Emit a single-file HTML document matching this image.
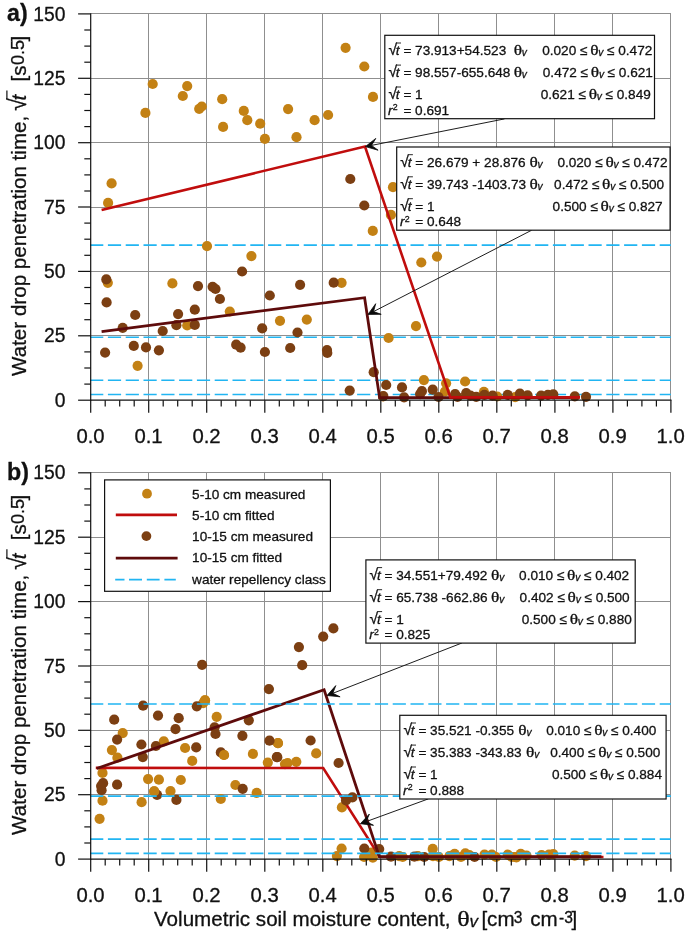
<!DOCTYPE html>
<html lang="en"><head><meta charset="utf-8"><title>Water drop penetration time vs. volumetric soil moisture content</title>
<style>html,body{margin:0;padding:0;background:#fff}svg{display:block}text{font-family:"Liberation Sans",Arial,sans-serif;stroke:#111;stroke-width:0.3px;stroke-linejoin:round}.ser{font-family:"Liberation Serif","DejaVu Serif",serif}</style>
</head><body>
<svg width="685" height="932" viewBox="0 0 685 932">
<rect width="685" height="932" fill="#fff"/>
<g id="plot-a">
<g stroke="#8f8f8f" stroke-width="1" shape-rendering="crispEdges"><line x1="148.5" y1="13.9" x2="148.5" y2="400.2"/><line x1="206.5" y1="13.9" x2="206.5" y2="400.2"/><line x1="264.5" y1="13.9" x2="264.5" y2="400.2"/><line x1="322.5" y1="13.9" x2="322.5" y2="400.2"/><line x1="380.5" y1="13.9" x2="380.5" y2="400.2"/><line x1="438.5" y1="13.9" x2="438.5" y2="400.2"/><line x1="496.5" y1="13.9" x2="496.5" y2="400.2"/><line x1="554.5" y1="13.9" x2="554.5" y2="400.2"/><line x1="612.5" y1="13.9" x2="612.5" y2="400.2"/><line x1="670.5" y1="13.9" x2="670.5" y2="400.2"/><line x1="90.7" y1="335.5" x2="670.9" y2="335.5"/><line x1="90.7" y1="271.5" x2="670.9" y2="271.5"/><line x1="90.7" y1="207.5" x2="670.9" y2="207.5"/><line x1="90.7" y1="142.5" x2="670.9" y2="142.5"/><line x1="90.7" y1="78.5" x2="670.9" y2="78.5"/><line x1="90.7" y1="13.5" x2="670.9" y2="13.5"/></g>
<line x1="90.1" y1="394.5" x2="670.9" y2="394.5" stroke="#21b5f2" stroke-width="1.65" stroke-dasharray="13.2 4.6"/><line x1="90.1" y1="380.2" x2="670.9" y2="380.2" stroke="#21b5f2" stroke-width="1.65" stroke-dasharray="13.2 4.6"/><line x1="90.1" y1="337.2" x2="670.9" y2="337.2" stroke="#21b5f2" stroke-width="1.65" stroke-dasharray="13.2 4.6"/><line x1="90.1" y1="245.1" x2="670.9" y2="245.1" stroke="#21b5f2" stroke-width="1.65" stroke-dasharray="13.2 4.6"/>
<circle cx="152.7" cy="84.0" r="5.1" fill="#c38114"/><circle cx="145.4" cy="112.9" r="5.1" fill="#c38114"/><circle cx="187.2" cy="86.1" r="5.1" fill="#c38114"/><circle cx="182.8" cy="96.0" r="5.1" fill="#c38114"/><circle cx="201.8" cy="106.5" r="5.1" fill="#c38114"/><circle cx="199.2" cy="108.8" r="5.1" fill="#c38114"/><circle cx="222.2" cy="99.2" r="5.1" fill="#c38114"/><circle cx="223.1" cy="126.9" r="5.1" fill="#c38114"/><circle cx="243.8" cy="110.9" r="5.1" fill="#c38114"/><circle cx="247.3" cy="120.2" r="5.1" fill="#c38114"/><circle cx="260.2" cy="123.7" r="5.1" fill="#c38114"/><circle cx="264.9" cy="138.9" r="5.1" fill="#c38114"/><circle cx="288.1" cy="109.1" r="5.1" fill="#c38114"/><circle cx="296.5" cy="137.2" r="5.1" fill="#c38114"/><circle cx="314.6" cy="120.2" r="5.1" fill="#c38114"/><circle cx="328.1" cy="115.0" r="5.1" fill="#c38114"/><circle cx="345.6" cy="47.8" r="5.1" fill="#c38114"/><circle cx="364.3" cy="66.5" r="5.1" fill="#c38114"/><circle cx="373.0" cy="96.9" r="5.1" fill="#c38114"/><circle cx="111.6" cy="183.4" r="5.1" fill="#c38114"/><circle cx="108.1" cy="202.9" r="5.1" fill="#c38114"/><circle cx="207.0" cy="246.1" r="5.1" fill="#c38114"/><circle cx="251.4" cy="256.1" r="5.1" fill="#c38114"/><circle cx="107.8" cy="282.8" r="5.1" fill="#c38114"/><circle cx="172.4" cy="283.4" r="5.1" fill="#c38114"/><circle cx="137.6" cy="365.8" r="5.1" fill="#c38114"/><circle cx="187.2" cy="325.5" r="5.1" fill="#c38114"/><circle cx="229.8" cy="311.5" r="5.1" fill="#c38114"/><circle cx="280.0" cy="320.8" r="5.1" fill="#c38114"/><circle cx="372.8" cy="230.9" r="5.1" fill="#c38114"/><circle cx="393.0" cy="187.2" r="5.1" fill="#c38114"/><circle cx="390.9" cy="214.9" r="5.1" fill="#c38114"/><circle cx="421.3" cy="262.5" r="5.1" fill="#c38114"/><circle cx="437.0" cy="256.6" r="5.1" fill="#c38114"/><circle cx="341.6" cy="282.8" r="5.1" fill="#c38114"/><circle cx="306.8" cy="319.6" r="5.1" fill="#c38114"/><circle cx="388.6" cy="338.0" r="5.1" fill="#c38114"/><circle cx="416.0" cy="326.1" r="5.1" fill="#c38114"/><circle cx="423.9" cy="380.1" r="5.1" fill="#c38114"/><circle cx="446.1" cy="383.3" r="5.1" fill="#c38114"/><circle cx="465.1" cy="381.5" r="5.1" fill="#c38114"/><circle cx="383.0" cy="396.5" r="5.1" fill="#c38114"/><circle cx="445.0" cy="391.5" r="5.1" fill="#c38114"/><circle cx="483.9" cy="391.9" r="5.1" fill="#c38114"/><circle cx="497.2" cy="396.5" r="5.1" fill="#c38114"/><circle cx="515.2" cy="397.2" r="5.1" fill="#c38114"/>
<circle cx="242.1" cy="271.5" r="5.1" fill="#7c3f12"/><circle cx="106.3" cy="279.4" r="5.1" fill="#7c3f12"/><circle cx="198.0" cy="286.1" r="5.1" fill="#7c3f12"/><circle cx="212.6" cy="286.8" r="5.1" fill="#7c3f12"/><circle cx="215.5" cy="289.0" r="5.1" fill="#7c3f12"/><circle cx="269.8" cy="295.5" r="5.1" fill="#7c3f12"/><circle cx="219.9" cy="299.0" r="5.1" fill="#7c3f12"/><circle cx="106.6" cy="302.4" r="5.1" fill="#7c3f12"/><circle cx="135.2" cy="315.0" r="5.1" fill="#7c3f12"/><circle cx="122.7" cy="327.8" r="5.1" fill="#7c3f12"/><circle cx="133.8" cy="345.9" r="5.1" fill="#7c3f12"/><circle cx="146.0" cy="347.4" r="5.1" fill="#7c3f12"/><circle cx="105.1" cy="352.6" r="5.1" fill="#7c3f12"/><circle cx="158.9" cy="350.3" r="5.1" fill="#7c3f12"/><circle cx="162.7" cy="331.0" r="5.1" fill="#7c3f12"/><circle cx="178.1" cy="314.1" r="5.1" fill="#7c3f12"/><circle cx="176.4" cy="325.2" r="5.1" fill="#7c3f12"/><circle cx="194.8" cy="309.7" r="5.1" fill="#7c3f12"/><circle cx="194.8" cy="324.9" r="5.1" fill="#7c3f12"/><circle cx="236.2" cy="344.7" r="5.1" fill="#7c3f12"/><circle cx="240.6" cy="347.7" r="5.1" fill="#7c3f12"/><circle cx="262.2" cy="328.4" r="5.1" fill="#7c3f12"/><circle cx="264.9" cy="352.0" r="5.1" fill="#7c3f12"/><circle cx="350.3" cy="179.0" r="5.1" fill="#7c3f12"/><circle cx="364.3" cy="205.5" r="5.1" fill="#7c3f12"/><circle cx="300.1" cy="284.8" r="5.1" fill="#7c3f12"/><circle cx="333.7" cy="282.7" r="5.1" fill="#7c3f12"/><circle cx="297.5" cy="332.5" r="5.1" fill="#7c3f12"/><circle cx="290.2" cy="348.0" r="5.1" fill="#7c3f12"/><circle cx="327.0" cy="350.0" r="5.1" fill="#7c3f12"/><circle cx="327.3" cy="353.0" r="5.1" fill="#7c3f12"/><circle cx="349.7" cy="390.6" r="5.1" fill="#7c3f12"/><circle cx="373.7" cy="372.2" r="5.1" fill="#7c3f12"/><circle cx="386.2" cy="385.0" r="5.1" fill="#7c3f12"/><circle cx="402.0" cy="387.4" r="5.1" fill="#7c3f12"/><circle cx="383.3" cy="396.1" r="5.1" fill="#7c3f12"/><circle cx="404.1" cy="397.3" r="5.1" fill="#7c3f12"/><circle cx="421.9" cy="391.2" r="5.1" fill="#7c3f12"/><circle cx="420.1" cy="394.1" r="5.1" fill="#7c3f12"/><circle cx="432.7" cy="389.7" r="5.1" fill="#7c3f12"/><circle cx="438.5" cy="397.0" r="5.1" fill="#7c3f12"/><circle cx="455.1" cy="394.1" r="5.1" fill="#7c3f12"/><circle cx="457.5" cy="397.0" r="5.1" fill="#7c3f12"/><circle cx="466.2" cy="393.2" r="5.1" fill="#7c3f12"/><circle cx="470.4" cy="395.6" r="5.1" fill="#7c3f12"/><circle cx="476.2" cy="396.8" r="5.1" fill="#7c3f12"/><circle cx="484.4" cy="394.9" r="5.1" fill="#7c3f12"/><circle cx="492.6" cy="395.6" r="5.1" fill="#7c3f12"/><circle cx="507.7" cy="394.9" r="5.1" fill="#7c3f12"/><circle cx="519.9" cy="393.7" r="5.1" fill="#7c3f12"/><circle cx="527.6" cy="395.4" r="5.1" fill="#7c3f12"/><circle cx="541.1" cy="395.6" r="5.1" fill="#7c3f12"/><circle cx="547.9" cy="394.9" r="5.1" fill="#7c3f12"/><circle cx="553.3" cy="394.4" r="5.1" fill="#7c3f12"/><circle cx="574.8" cy="396.3" r="5.1" fill="#7c3f12"/><circle cx="586.0" cy="396.8" r="5.1" fill="#7c3f12"/>
<polyline points="101.6,331.6 364.6,297.7 379.6,397.6 570.4,397.6" fill="none" stroke="#5e0b0b" stroke-width="2.8" stroke-linejoin="miter"/>
<polyline points="101.6,209.9 365.0,146.6 450.3,397.4 580.0,397.4" fill="none" stroke="#c00d0d" stroke-width="2.6" stroke-linejoin="miter"/>
<g stroke="#111" stroke-width="1.2"><line x1="90.7" y1="13.3" x2="90.7" y2="400.8"/><line x1="90.1" y1="400.2" x2="671.5" y2="400.2"/><line x1="90.7" y1="400.2" x2="90.7" y2="412.8"/><line x1="105.2" y1="400.2" x2="105.2" y2="406.6"/><line x1="119.7" y1="400.2" x2="119.7" y2="406.6"/><line x1="134.2" y1="400.2" x2="134.2" y2="406.6"/><line x1="148.7" y1="400.2" x2="148.7" y2="412.8"/><line x1="163.2" y1="400.2" x2="163.2" y2="406.6"/><line x1="177.7" y1="400.2" x2="177.7" y2="406.6"/><line x1="192.2" y1="400.2" x2="192.2" y2="406.6"/><line x1="206.7" y1="400.2" x2="206.7" y2="412.8"/><line x1="221.2" y1="400.2" x2="221.2" y2="406.6"/><line x1="235.8" y1="400.2" x2="235.8" y2="406.6"/><line x1="250.3" y1="400.2" x2="250.3" y2="406.6"/><line x1="264.8" y1="400.2" x2="264.8" y2="412.8"/><line x1="279.3" y1="400.2" x2="279.3" y2="406.6"/><line x1="293.8" y1="400.2" x2="293.8" y2="406.6"/><line x1="308.3" y1="400.2" x2="308.3" y2="406.6"/><line x1="322.8" y1="400.2" x2="322.8" y2="412.8"/><line x1="337.3" y1="400.2" x2="337.3" y2="406.6"/><line x1="351.8" y1="400.2" x2="351.8" y2="406.6"/><line x1="366.3" y1="400.2" x2="366.3" y2="406.6"/><line x1="380.8" y1="400.2" x2="380.8" y2="412.8"/><line x1="395.3" y1="400.2" x2="395.3" y2="406.6"/><line x1="409.8" y1="400.2" x2="409.8" y2="406.6"/><line x1="424.3" y1="400.2" x2="424.3" y2="406.6"/><line x1="438.8" y1="400.2" x2="438.8" y2="412.8"/><line x1="453.3" y1="400.2" x2="453.3" y2="406.6"/><line x1="467.8" y1="400.2" x2="467.8" y2="406.6"/><line x1="482.3" y1="400.2" x2="482.3" y2="406.6"/><line x1="496.8" y1="400.2" x2="496.8" y2="412.8"/><line x1="511.3" y1="400.2" x2="511.3" y2="406.6"/><line x1="525.9" y1="400.2" x2="525.9" y2="406.6"/><line x1="540.4" y1="400.2" x2="540.4" y2="406.6"/><line x1="554.9" y1="400.2" x2="554.9" y2="412.8"/><line x1="569.4" y1="400.2" x2="569.4" y2="406.6"/><line x1="583.9" y1="400.2" x2="583.9" y2="406.6"/><line x1="598.4" y1="400.2" x2="598.4" y2="406.6"/><line x1="612.9" y1="400.2" x2="612.9" y2="412.8"/><line x1="627.4" y1="400.2" x2="627.4" y2="406.6"/><line x1="641.9" y1="400.2" x2="641.9" y2="406.6"/><line x1="656.4" y1="400.2" x2="656.4" y2="406.6"/><line x1="670.9" y1="400.2" x2="670.9" y2="412.8"/><line x1="78.1" y1="400.2" x2="90.7" y2="400.2"/><line x1="84.3" y1="384.1" x2="90.7" y2="384.1"/><line x1="84.3" y1="368.0" x2="90.7" y2="368.0"/><line x1="84.3" y1="351.9" x2="90.7" y2="351.9"/><line x1="78.1" y1="335.8" x2="90.7" y2="335.8"/><line x1="84.3" y1="319.7" x2="90.7" y2="319.7"/><line x1="84.3" y1="303.6" x2="90.7" y2="303.6"/><line x1="84.3" y1="287.5" x2="90.7" y2="287.5"/><line x1="78.1" y1="271.4" x2="90.7" y2="271.4"/><line x1="84.3" y1="255.3" x2="90.7" y2="255.3"/><line x1="84.3" y1="239.2" x2="90.7" y2="239.2"/><line x1="84.3" y1="223.1" x2="90.7" y2="223.1"/><line x1="78.1" y1="207.0" x2="90.7" y2="207.0"/><line x1="84.3" y1="191.0" x2="90.7" y2="191.0"/><line x1="84.3" y1="174.9" x2="90.7" y2="174.9"/><line x1="84.3" y1="158.8" x2="90.7" y2="158.8"/><line x1="78.1" y1="142.7" x2="90.7" y2="142.7"/><line x1="84.3" y1="126.6" x2="90.7" y2="126.6"/><line x1="84.3" y1="110.5" x2="90.7" y2="110.5"/><line x1="84.3" y1="94.4" x2="90.7" y2="94.4"/><line x1="78.1" y1="78.3" x2="90.7" y2="78.3"/><line x1="84.3" y1="62.2" x2="90.7" y2="62.2"/><line x1="84.3" y1="46.1" x2="90.7" y2="46.1"/><line x1="84.3" y1="30.0" x2="90.7" y2="30.0"/><line x1="78.1" y1="13.9" x2="90.7" y2="13.9"/></g>
<g font-size="19.3" fill="#111"><text x="90.5" y="442.7" text-anchor="middle" font-size="20.3">0.0</text><text x="148.5" y="442.7" text-anchor="middle" font-size="20.3">0.1</text><text x="206.5" y="442.7" text-anchor="middle" font-size="20.3">0.2</text><text x="264.6" y="442.7" text-anchor="middle" font-size="20.3">0.3</text><text x="322.6" y="442.7" text-anchor="middle" font-size="20.3">0.4</text><text x="380.6" y="442.7" text-anchor="middle" font-size="20.3">0.5</text><text x="438.6" y="442.7" text-anchor="middle" font-size="20.3">0.6</text><text x="496.6" y="442.7" text-anchor="middle" font-size="20.3">0.7</text><text x="554.7" y="442.7" text-anchor="middle" font-size="20.3">0.8</text><text x="612.7" y="442.7" text-anchor="middle" font-size="20.3">0.9</text><text x="670.7" y="442.7" text-anchor="middle" font-size="20.3">1.0</text><text x="65.5" y="406.8" text-anchor="end">0</text><text x="65.5" y="342.4" text-anchor="end">25</text><text x="65.5" y="278.0" text-anchor="end">50</text><text x="65.5" y="213.6" text-anchor="end">75</text><text x="65.5" y="149.3" text-anchor="end">100</text><text x="65.5" y="84.9" text-anchor="end">125</text><text x="65.5" y="20.5" text-anchor="end">150</text></g>
<g transform="translate(26.3 376.0) rotate(-90)" font-size="20.6" fill="#111"><text x="0" y="0" xml:space="preserve">Water drop penetration time,</text><text transform="translate(265.2 0) scale(0.92 1)" x="0" y="0" font-size="25">√</text><line x1="277.0" y1="-19.4" x2="285.6" y2="-19.4" stroke="#111" stroke-width="1.2"/><text x="275.6" y="0" font-style="italic">t</text><text x="294.6" y="0">[s</text><text x="311.0" y="-2.7" font-size="18">0.5</text><text x="334.4" y="0">]</text></g>
<text x="7" y="20.6" font-size="23.2" font-weight="bold" fill="#111">a)</text>
<line x1="504.5" y1="118.9" x2="371.5" y2="145.4" stroke="#111" stroke-width="0.95"/><polygon points="365.4,146.6 375.8,138.4 371.5,145.4 378.1,150.2" fill="#0a0a0a" stroke="#0a0a0a" stroke-width="0.8" stroke-linejoin="miter"/>
<line x1="531.7" y1="230.2" x2="373.5" y2="311.6" stroke="#111" stroke-width="0.95"/><polygon points="368.0,314.4 375.7,303.7 373.5,311.6 381.2,314.3" fill="#0a0a0a" stroke="#0a0a0a" stroke-width="0.8" stroke-linejoin="miter"/>
<rect x="384.8" y="35.3" width="269.7" height="83.4" fill="#fff" stroke="#111" stroke-width="1.2"/><g font-size="13.6" fill="#111"><text x="388.4" y="55.1" font-size="15.6">√</text><line x1="396.2" y1="43.0" x2="401.0" y2="43.0" stroke="#111" stroke-width="0.9"/><text x="395.8" y="54.9" font-style="italic">t</text><text x="403.4" y="54.9" xml:space="preserve">= 73.913+54.523</text><text class="ser" transform="translate(513.7 54.9) scale(1.25 1)" font-size="13.9">θ</text><text x="521.8" y="56.1" font-style="italic" font-size="10.2">v</text><text x="542.2" y="54.9" xml:space="preserve">0.020 ≤</text><text class="ser" transform="translate(590.2 54.9) scale(1.25 1)" font-size="13.9">θ</text><text x="598.3" y="56.1" font-style="italic" font-size="10.2">v</text><text x="607.0" y="54.9" xml:space="preserve">≤ 0.472</text><text x="388.4" y="77.2" font-size="15.6">√</text><line x1="396.2" y1="65.1" x2="401.0" y2="65.1" stroke="#111" stroke-width="0.9"/><text x="395.8" y="77.0" font-style="italic">t</text><text x="403.4" y="77.0" xml:space="preserve">= 98.557-655.648</text><text class="ser" transform="translate(513.7 77.0) scale(1.25 1)" font-size="13.9">θ</text><text x="521.8" y="78.2" font-style="italic" font-size="10.2">v</text><text x="542.8" y="77.0" xml:space="preserve">0.472 ≤</text><text class="ser" transform="translate(590.8 77.0) scale(1.25 1)" font-size="13.9">θ</text><text x="598.9" y="78.2" font-style="italic" font-size="10.2">v</text><text x="607.6" y="77.0" xml:space="preserve">≤ 0.621</text><text x="388.4" y="99.1" font-size="15.6">√</text><line x1="396.2" y1="87.0" x2="401.0" y2="87.0" stroke="#111" stroke-width="0.9"/><text x="395.8" y="98.9" font-style="italic">t</text><text x="403.4" y="98.9" xml:space="preserve">= 1</text><text x="540.7" y="98.9" xml:space="preserve">0.621 ≤</text><text class="ser" transform="translate(588.7 98.9) scale(1.25 1)" font-size="13.9">θ</text><text x="596.8" y="100.1" font-style="italic" font-size="10.2">v</text><text x="605.5" y="98.9" xml:space="preserve">≤ 0.849</text><text x="388.1" y="114.7" font-style="italic">r</text><text x="392.8" y="109.9" font-size="8.8">2</text><text x="403.4" y="114.7" xml:space="preserve">= 0.691</text></g>
<rect x="396.7" y="147.0" width="273.4" height="83.2" fill="#fff" stroke="#111" stroke-width="1.2"/><g font-size="13.6" fill="#111"><text x="400.3" y="166.8" font-size="15.6">√</text><line x1="408.1" y1="154.7" x2="412.9" y2="154.7" stroke="#111" stroke-width="0.9"/><text x="407.7" y="166.6" font-style="italic">t</text><text x="415.3" y="166.6" xml:space="preserve">= 26.679 + 28.876</text><text class="ser" transform="translate(529.5 166.6) scale(1.25 1)" font-size="13.9">θ</text><text x="537.6" y="167.8" font-style="italic" font-size="10.2">v</text><text x="557.4" y="166.6" xml:space="preserve">0.020 ≤</text><text class="ser" transform="translate(605.4 166.6) scale(1.25 1)" font-size="13.9">θ</text><text x="613.5" y="167.8" font-style="italic" font-size="10.2">v</text><text x="622.2" y="166.6" xml:space="preserve">≤ 0.472</text><text x="400.3" y="188.9" font-size="15.6">√</text><line x1="408.1" y1="176.8" x2="412.9" y2="176.8" stroke="#111" stroke-width="0.9"/><text x="407.7" y="188.7" font-style="italic">t</text><text x="415.3" y="188.7" xml:space="preserve">= 39.743 -1403.73</text><text class="ser" transform="translate(529.5 188.7) scale(1.25 1)" font-size="13.9">θ</text><text x="537.6" y="189.9" font-style="italic" font-size="10.2">v</text><text x="554.1" y="188.7" xml:space="preserve">0.472 ≤</text><text class="ser" transform="translate(602.1 188.7) scale(1.25 1)" font-size="13.9">θ</text><text x="610.2" y="189.9" font-style="italic" font-size="10.2">v</text><text x="618.9" y="188.7" xml:space="preserve">≤ 0.500</text><text x="400.3" y="210.8" font-size="15.6">√</text><line x1="408.1" y1="198.7" x2="412.9" y2="198.7" stroke="#111" stroke-width="0.9"/><text x="407.7" y="210.6" font-style="italic">t</text><text x="415.3" y="210.6" xml:space="preserve">= 1</text><text x="552.6" y="210.6" xml:space="preserve">0.500 ≤</text><text class="ser" transform="translate(600.6 210.6) scale(1.25 1)" font-size="13.9">θ</text><text x="608.7" y="211.8" font-style="italic" font-size="10.2">v</text><text x="617.4" y="210.6" xml:space="preserve">≤ 0.827</text><text x="400.0" y="226.4" font-style="italic">r</text><text x="404.7" y="221.6" font-size="8.8">2</text><text x="415.3" y="226.4" xml:space="preserve">= 0.648</text></g>
</g>
<g id="plot-b">
<g stroke="#8f8f8f" stroke-width="1" shape-rendering="crispEdges"><line x1="148.5" y1="472.8" x2="148.5" y2="859.1"/><line x1="206.5" y1="472.8" x2="206.5" y2="859.1"/><line x1="264.5" y1="472.8" x2="264.5" y2="859.1"/><line x1="322.5" y1="472.8" x2="322.5" y2="859.1"/><line x1="380.5" y1="472.8" x2="380.5" y2="859.1"/><line x1="438.5" y1="472.8" x2="438.5" y2="859.1"/><line x1="496.5" y1="472.8" x2="496.5" y2="859.1"/><line x1="554.5" y1="472.8" x2="554.5" y2="859.1"/><line x1="612.5" y1="472.8" x2="612.5" y2="859.1"/><line x1="670.5" y1="472.8" x2="670.5" y2="859.1"/><line x1="90.7" y1="794.5" x2="670.9" y2="794.5"/><line x1="90.7" y1="730.5" x2="670.9" y2="730.5"/><line x1="90.7" y1="665.5" x2="670.9" y2="665.5"/><line x1="90.7" y1="601.5" x2="670.9" y2="601.5"/><line x1="90.7" y1="537.5" x2="670.9" y2="537.5"/><line x1="90.7" y1="472.5" x2="670.9" y2="472.5"/></g>
<circle cx="205.0" cy="700.4" r="5.1" fill="#c38114"/><circle cx="203.2" cy="703.1" r="5.1" fill="#c38114"/><circle cx="216.7" cy="716.8" r="5.1" fill="#c38114"/><circle cx="122.7" cy="733.1" r="5.1" fill="#c38114"/><circle cx="278.0" cy="743.1" r="5.1" fill="#c38114"/><circle cx="163.8" cy="741.3" r="5.1" fill="#c38114"/><circle cx="185.1" cy="748.0" r="5.1" fill="#c38114"/><circle cx="111.9" cy="750.1" r="5.1" fill="#c38114"/><circle cx="224.0" cy="755.0" r="5.1" fill="#c38114"/><circle cx="252.9" cy="753.9" r="5.1" fill="#c38114"/><circle cx="117.4" cy="757.7" r="5.1" fill="#c38114"/><circle cx="192.2" cy="760.9" r="5.1" fill="#c38114"/><circle cx="267.8" cy="762.6" r="5.1" fill="#c38114"/><circle cx="285.0" cy="764.1" r="5.1" fill="#c38114"/><circle cx="102.5" cy="772.9" r="5.1" fill="#c38114"/><circle cx="148.1" cy="779.1" r="5.1" fill="#c38114"/><circle cx="158.9" cy="779.7" r="5.1" fill="#c38114"/><circle cx="180.8" cy="780.0" r="5.1" fill="#c38114"/><circle cx="154.2" cy="791.4" r="5.1" fill="#c38114"/><circle cx="170.5" cy="791.1" r="5.1" fill="#c38114"/><circle cx="141.6" cy="802.2" r="5.1" fill="#c38114"/><circle cx="235.4" cy="785.0" r="5.1" fill="#c38114"/><circle cx="256.7" cy="792.8" r="5.1" fill="#c38114"/><circle cx="220.8" cy="799.0" r="5.1" fill="#c38114"/><circle cx="102.5" cy="800.7" r="5.1" fill="#c38114"/><circle cx="99.6" cy="818.8" r="5.1" fill="#c38114"/><circle cx="277.9" cy="743.2" r="5.1" fill="#c38114"/><circle cx="316.2" cy="753.4" r="5.1" fill="#c38114"/><circle cx="287.6" cy="763.0" r="5.1" fill="#c38114"/><circle cx="296.3" cy="761.8" r="5.1" fill="#c38114"/><circle cx="341.9" cy="807.4" r="5.1" fill="#c38114"/><circle cx="341.6" cy="848.5" r="5.1" fill="#c38114"/><circle cx="336.9" cy="856.1" r="5.1" fill="#c38114"/><circle cx="364.1" cy="857.0" r="5.1" fill="#c38114"/><circle cx="371.4" cy="852.6" r="5.1" fill="#c38114"/><circle cx="372.8" cy="857.6" r="5.1" fill="#c38114"/><circle cx="432.7" cy="848.9" r="5.1" fill="#c38114"/><circle cx="399.2" cy="856.2" r="5.1" fill="#c38114"/><circle cx="402.7" cy="857.0" r="5.1" fill="#c38114"/><circle cx="417.9" cy="856.2" r="5.1" fill="#c38114"/><circle cx="433.0" cy="856.2" r="5.1" fill="#c38114"/><circle cx="438.9" cy="857.0" r="5.1" fill="#c38114"/><circle cx="449.4" cy="856.2" r="5.1" fill="#c38114"/><circle cx="454.6" cy="853.9" r="5.1" fill="#c38114"/><circle cx="461.0" cy="857.0" r="5.1" fill="#c38114"/><circle cx="465.3" cy="853.4" r="5.1" fill="#c38114"/><circle cx="469.3" cy="855.0" r="5.1" fill="#c38114"/><circle cx="484.5" cy="854.6" r="5.1" fill="#c38114"/><circle cx="491.9" cy="854.6" r="5.1" fill="#c38114"/><circle cx="496.0" cy="857.0" r="5.1" fill="#c38114"/><circle cx="507.8" cy="854.6" r="5.1" fill="#c38114"/><circle cx="514.8" cy="857.0" r="5.1" fill="#c38114"/><circle cx="520.7" cy="853.9" r="5.1" fill="#c38114"/><circle cx="526.5" cy="855.5" r="5.1" fill="#c38114"/><circle cx="511.7" cy="857.0" r="5.1" fill="#c38114"/><circle cx="516.4" cy="857.4" r="5.1" fill="#c38114"/><circle cx="541.6" cy="855.0" r="5.1" fill="#c38114"/><circle cx="549.0" cy="854.6" r="5.1" fill="#c38114"/><circle cx="553.3" cy="854.1" r="5.1" fill="#c38114"/><circle cx="574.7" cy="855.7" r="5.1" fill="#c38114"/><circle cx="586.0" cy="856.2" r="5.1" fill="#c38114"/>
<polyline points="95.8,767.9 323.2,768.0 379.8,857.0 603.5,857.0" fill="none" stroke="#c00d0d" stroke-width="2.6" stroke-linejoin="miter"/>
<circle cx="202.1" cy="664.8" r="5.1" fill="#7c3f12"/><circle cx="268.9" cy="689.1" r="5.1" fill="#7c3f12"/><circle cx="143.1" cy="705.7" r="5.1" fill="#7c3f12"/><circle cx="196.8" cy="706.3" r="5.1" fill="#7c3f12"/><circle cx="114.2" cy="719.7" r="5.1" fill="#7c3f12"/><circle cx="158.0" cy="715.6" r="5.1" fill="#7c3f12"/><circle cx="178.7" cy="718.2" r="5.1" fill="#7c3f12"/><circle cx="248.8" cy="720.3" r="5.1" fill="#7c3f12"/><circle cx="175.5" cy="729.1" r="5.1" fill="#7c3f12"/><circle cx="214.6" cy="727.3" r="5.1" fill="#7c3f12"/><circle cx="215.5" cy="734.0" r="5.1" fill="#7c3f12"/><circle cx="117.1" cy="739.6" r="5.1" fill="#7c3f12"/><circle cx="242.4" cy="735.8" r="5.1" fill="#7c3f12"/><circle cx="269.5" cy="740.7" r="5.1" fill="#7c3f12"/><circle cx="141.4" cy="744.5" r="5.1" fill="#7c3f12"/><circle cx="155.9" cy="746.0" r="5.1" fill="#7c3f12"/><circle cx="196.2" cy="747.4" r="5.1" fill="#7c3f12"/><circle cx="220.8" cy="752.4" r="5.1" fill="#7c3f12"/><circle cx="142.8" cy="757.1" r="5.1" fill="#7c3f12"/><circle cx="276.8" cy="757.1" r="5.1" fill="#7c3f12"/><circle cx="103.1" cy="783.2" r="5.1" fill="#7c3f12"/><circle cx="101.1" cy="786.1" r="5.1" fill="#7c3f12"/><circle cx="101.6" cy="790.2" r="5.1" fill="#7c3f12"/><circle cx="117.1" cy="784.7" r="5.1" fill="#7c3f12"/><circle cx="157.1" cy="794.9" r="5.1" fill="#7c3f12"/><circle cx="176.4" cy="799.9" r="5.1" fill="#7c3f12"/><circle cx="242.7" cy="788.8" r="5.1" fill="#7c3f12"/><circle cx="333.4" cy="628.4" r="5.1" fill="#7c3f12"/><circle cx="323.2" cy="636.6" r="5.1" fill="#7c3f12"/><circle cx="298.9" cy="647.1" r="5.1" fill="#7c3f12"/><circle cx="302.2" cy="665.2" r="5.1" fill="#7c3f12"/><circle cx="310.6" cy="740.5" r="5.1" fill="#7c3f12"/><circle cx="277.3" cy="757.2" r="5.1" fill="#7c3f12"/><circle cx="338.6" cy="763.0" r="5.1" fill="#7c3f12"/><circle cx="352.4" cy="797.4" r="5.1" fill="#7c3f12"/><circle cx="346.0" cy="800.4" r="5.1" fill="#7c3f12"/><circle cx="364.3" cy="848.5" r="5.1" fill="#7c3f12"/><circle cx="379.2" cy="849.1" r="5.1" fill="#7c3f12"/><circle cx="391.0" cy="856.7" r="5.1" fill="#7c3f12"/><circle cx="414.4" cy="856.7" r="5.1" fill="#7c3f12"/><circle cx="424.2" cy="857.0" r="5.1" fill="#7c3f12"/><circle cx="474.6" cy="857.0" r="5.1" fill="#7c3f12"/>
<circle cx="154.2" cy="791.4" r="5.1" fill="#c38114"/><circle cx="224.0" cy="755.0" r="5.1" fill="#c38114"/><circle cx="205.0" cy="700.4" r="5.1" fill="#c38114"/>
<polyline points="96.7,768.5 324.1,689.7 379.3,856.6 601.4,856.6" fill="none" stroke="#5e0b0b" stroke-width="2.8" stroke-linejoin="miter"/>
<line x1="90.1" y1="853.4" x2="670.9" y2="853.4" stroke="#21b5f2" stroke-width="1.65" stroke-dasharray="13.2 4.6"/><line x1="90.1" y1="839.1" x2="670.9" y2="839.1" stroke="#21b5f2" stroke-width="1.65" stroke-dasharray="13.2 4.6"/><line x1="90.1" y1="796.1" x2="670.9" y2="796.1" stroke="#21b5f2" stroke-width="1.65" stroke-dasharray="13.2 4.6"/><line x1="90.1" y1="704.0" x2="670.9" y2="704.0" stroke="#21b5f2" stroke-width="1.65" stroke-dasharray="13.2 4.6"/>
<g stroke="#111" stroke-width="1.2"><line x1="90.7" y1="472.2" x2="90.7" y2="859.7"/><line x1="90.1" y1="859.1" x2="671.5" y2="859.1"/><line x1="90.7" y1="859.1" x2="90.7" y2="871.7"/><line x1="105.2" y1="859.1" x2="105.2" y2="865.5"/><line x1="119.7" y1="859.1" x2="119.7" y2="865.5"/><line x1="134.2" y1="859.1" x2="134.2" y2="865.5"/><line x1="148.7" y1="859.1" x2="148.7" y2="871.7"/><line x1="163.2" y1="859.1" x2="163.2" y2="865.5"/><line x1="177.7" y1="859.1" x2="177.7" y2="865.5"/><line x1="192.2" y1="859.1" x2="192.2" y2="865.5"/><line x1="206.7" y1="859.1" x2="206.7" y2="871.7"/><line x1="221.2" y1="859.1" x2="221.2" y2="865.5"/><line x1="235.8" y1="859.1" x2="235.8" y2="865.5"/><line x1="250.3" y1="859.1" x2="250.3" y2="865.5"/><line x1="264.8" y1="859.1" x2="264.8" y2="871.7"/><line x1="279.3" y1="859.1" x2="279.3" y2="865.5"/><line x1="293.8" y1="859.1" x2="293.8" y2="865.5"/><line x1="308.3" y1="859.1" x2="308.3" y2="865.5"/><line x1="322.8" y1="859.1" x2="322.8" y2="871.7"/><line x1="337.3" y1="859.1" x2="337.3" y2="865.5"/><line x1="351.8" y1="859.1" x2="351.8" y2="865.5"/><line x1="366.3" y1="859.1" x2="366.3" y2="865.5"/><line x1="380.8" y1="859.1" x2="380.8" y2="871.7"/><line x1="395.3" y1="859.1" x2="395.3" y2="865.5"/><line x1="409.8" y1="859.1" x2="409.8" y2="865.5"/><line x1="424.3" y1="859.1" x2="424.3" y2="865.5"/><line x1="438.8" y1="859.1" x2="438.8" y2="871.7"/><line x1="453.3" y1="859.1" x2="453.3" y2="865.5"/><line x1="467.8" y1="859.1" x2="467.8" y2="865.5"/><line x1="482.3" y1="859.1" x2="482.3" y2="865.5"/><line x1="496.8" y1="859.1" x2="496.8" y2="871.7"/><line x1="511.3" y1="859.1" x2="511.3" y2="865.5"/><line x1="525.9" y1="859.1" x2="525.9" y2="865.5"/><line x1="540.4" y1="859.1" x2="540.4" y2="865.5"/><line x1="554.9" y1="859.1" x2="554.9" y2="871.7"/><line x1="569.4" y1="859.1" x2="569.4" y2="865.5"/><line x1="583.9" y1="859.1" x2="583.9" y2="865.5"/><line x1="598.4" y1="859.1" x2="598.4" y2="865.5"/><line x1="612.9" y1="859.1" x2="612.9" y2="871.7"/><line x1="627.4" y1="859.1" x2="627.4" y2="865.5"/><line x1="641.9" y1="859.1" x2="641.9" y2="865.5"/><line x1="656.4" y1="859.1" x2="656.4" y2="865.5"/><line x1="670.9" y1="859.1" x2="670.9" y2="871.7"/><line x1="78.1" y1="859.1" x2="90.7" y2="859.1"/><line x1="84.3" y1="843.0" x2="90.7" y2="843.0"/><line x1="84.3" y1="826.9" x2="90.7" y2="826.9"/><line x1="84.3" y1="810.8" x2="90.7" y2="810.8"/><line x1="78.1" y1="794.7" x2="90.7" y2="794.7"/><line x1="84.3" y1="778.6" x2="90.7" y2="778.6"/><line x1="84.3" y1="762.5" x2="90.7" y2="762.5"/><line x1="84.3" y1="746.4" x2="90.7" y2="746.4"/><line x1="78.1" y1="730.3" x2="90.7" y2="730.3"/><line x1="84.3" y1="714.2" x2="90.7" y2="714.2"/><line x1="84.3" y1="698.1" x2="90.7" y2="698.1"/><line x1="84.3" y1="682.0" x2="90.7" y2="682.0"/><line x1="78.1" y1="666.0" x2="90.7" y2="666.0"/><line x1="84.3" y1="649.9" x2="90.7" y2="649.9"/><line x1="84.3" y1="633.8" x2="90.7" y2="633.8"/><line x1="84.3" y1="617.7" x2="90.7" y2="617.7"/><line x1="78.1" y1="601.6" x2="90.7" y2="601.6"/><line x1="84.3" y1="585.5" x2="90.7" y2="585.5"/><line x1="84.3" y1="569.4" x2="90.7" y2="569.4"/><line x1="84.3" y1="553.3" x2="90.7" y2="553.3"/><line x1="78.1" y1="537.2" x2="90.7" y2="537.2"/><line x1="84.3" y1="521.1" x2="90.7" y2="521.1"/><line x1="84.3" y1="505.0" x2="90.7" y2="505.0"/><line x1="84.3" y1="488.9" x2="90.7" y2="488.9"/><line x1="78.1" y1="472.8" x2="90.7" y2="472.8"/></g>
<g font-size="19.3" fill="#111"><text x="90.5" y="901.6" text-anchor="middle" font-size="20.3">0.0</text><text x="148.5" y="901.6" text-anchor="middle" font-size="20.3">0.1</text><text x="206.5" y="901.6" text-anchor="middle" font-size="20.3">0.2</text><text x="264.6" y="901.6" text-anchor="middle" font-size="20.3">0.3</text><text x="322.6" y="901.6" text-anchor="middle" font-size="20.3">0.4</text><text x="380.6" y="901.6" text-anchor="middle" font-size="20.3">0.5</text><text x="438.6" y="901.6" text-anchor="middle" font-size="20.3">0.6</text><text x="496.6" y="901.6" text-anchor="middle" font-size="20.3">0.7</text><text x="554.7" y="901.6" text-anchor="middle" font-size="20.3">0.8</text><text x="612.7" y="901.6" text-anchor="middle" font-size="20.3">0.9</text><text x="670.7" y="901.6" text-anchor="middle" font-size="20.3">1.0</text><text x="65.5" y="865.7" text-anchor="end">0</text><text x="65.5" y="801.3" text-anchor="end">25</text><text x="65.5" y="736.9" text-anchor="end">50</text><text x="65.5" y="672.6" text-anchor="end">75</text><text x="65.5" y="608.2" text-anchor="end">100</text><text x="65.5" y="543.8" text-anchor="end">125</text><text x="65.5" y="479.4" text-anchor="end">150</text></g>
<g transform="translate(26.3 834.9) rotate(-90)" font-size="20.6" fill="#111"><text x="0" y="0" xml:space="preserve">Water drop penetration time,</text><text transform="translate(265.2 0) scale(0.92 1)" x="0" y="0" font-size="25">√</text><line x1="277.0" y1="-19.4" x2="285.6" y2="-19.4" stroke="#111" stroke-width="1.2"/><text x="275.6" y="0" font-style="italic">t</text><text x="294.6" y="0">[s</text><text x="311.0" y="-2.7" font-size="18">0.5</text><text x="334.4" y="0">]</text></g>
<text x="7" y="479.5" font-size="23.2" font-weight="bold" fill="#111">b)</text>
<line x1="461.9" y1="643.0" x2="332.8" y2="693.3" stroke="#111" stroke-width="0.95"/><polygon points="327.0,695.5 335.8,685.6 332.8,693.3 340.1,696.8" fill="#0a0a0a" stroke="#0a0a0a" stroke-width="0.8" stroke-linejoin="miter"/>
<line x1="428.3" y1="798.9" x2="366.2" y2="821.6" stroke="#111" stroke-width="0.95"/><polygon points="360.4,823.7 369.4,814.0 366.2,821.6 373.5,825.3" fill="#0a0a0a" stroke="#0a0a0a" stroke-width="0.8" stroke-linejoin="miter"/>
<rect x="365.9" y="559.9" width="269.3" height="83.2" fill="#fff" stroke="#111" stroke-width="1.2"/><g font-size="13.6" fill="#111"><text x="369.5" y="579.7" font-size="15.6">√</text><line x1="377.3" y1="567.6" x2="382.1" y2="567.6" stroke="#111" stroke-width="0.9"/><text x="376.9" y="579.5" font-style="italic">t</text><text x="384.5" y="579.5" xml:space="preserve">= 34.551+79.492</text><text class="ser" transform="translate(491.1 579.5) scale(1.25 1)" font-size="13.9">θ</text><text x="499.2" y="580.7" font-style="italic" font-size="10.2">v</text><text x="519.1" y="579.5" xml:space="preserve">0.010 ≤</text><text class="ser" transform="translate(567.1 579.5) scale(1.25 1)" font-size="13.9">θ</text><text x="575.2" y="580.7" font-style="italic" font-size="10.2">v</text><text x="583.9" y="579.5" xml:space="preserve">≤ 0.402</text><text x="369.5" y="601.8" font-size="15.6">√</text><line x1="377.3" y1="589.7" x2="382.1" y2="589.7" stroke="#111" stroke-width="0.9"/><text x="376.9" y="601.6" font-style="italic">t</text><text x="384.5" y="601.6" xml:space="preserve">= 65.738 -662.86</text><text class="ser" transform="translate(491.1 601.6) scale(1.25 1)" font-size="13.9">θ</text><text x="499.2" y="602.8" font-style="italic" font-size="10.2">v</text><text x="519.6" y="601.6" xml:space="preserve">0.402 ≤</text><text class="ser" transform="translate(567.6 601.6) scale(1.25 1)" font-size="13.9">θ</text><text x="575.7" y="602.8" font-style="italic" font-size="10.2">v</text><text x="584.4" y="601.6" xml:space="preserve">≤ 0.500</text><text x="369.5" y="623.7" font-size="15.6">√</text><line x1="377.3" y1="611.6" x2="382.1" y2="611.6" stroke="#111" stroke-width="0.9"/><text x="376.9" y="623.5" font-style="italic">t</text><text x="384.5" y="623.5" xml:space="preserve">= 1</text><text x="521.7" y="623.5" xml:space="preserve">0.500 ≤</text><text class="ser" transform="translate(569.7 623.5) scale(1.25 1)" font-size="13.9">θ</text><text x="577.8" y="624.7" font-style="italic" font-size="10.2">v</text><text x="586.5" y="623.5" xml:space="preserve">≤ 0.880</text><text x="369.2" y="639.3" font-style="italic">r</text><text x="373.9" y="634.5" font-size="8.8">2</text><text x="384.5" y="639.3" xml:space="preserve">= 0.825</text></g>
<rect x="399.8" y="715.3" width="266.3" height="83.7" fill="#fff" stroke="#111" stroke-width="1.2"/><g font-size="13.6" fill="#111"><text x="403.4" y="735.1" font-size="15.6">√</text><line x1="411.2" y1="723.0" x2="416.0" y2="723.0" stroke="#111" stroke-width="0.9"/><text x="410.8" y="734.9" font-style="italic">t</text><text x="418.4" y="734.9" xml:space="preserve">= 35.521 -0.355</text><text class="ser" transform="translate(518.3 734.9) scale(1.25 1)" font-size="13.9">θ</text><text x="526.4" y="736.1" font-style="italic" font-size="10.2">v</text><text x="546.2" y="734.9" xml:space="preserve">0.010 ≤</text><text class="ser" transform="translate(594.2 734.9) scale(1.25 1)" font-size="13.9">θ</text><text x="602.3" y="736.1" font-style="italic" font-size="10.2">v</text><text x="611.0" y="734.9" xml:space="preserve">≤ 0.400</text><text x="403.4" y="757.2" font-size="15.6">√</text><line x1="411.2" y1="745.1" x2="416.0" y2="745.1" stroke="#111" stroke-width="0.9"/><text x="410.8" y="757.0" font-style="italic">t</text><text x="418.4" y="757.0" xml:space="preserve">= 35.383 -343.83</text><text class="ser" transform="translate(526.1 757.0) scale(1.25 1)" font-size="13.9">θ</text><text x="534.2" y="758.2" font-style="italic" font-size="10.2">v</text><text x="550.2" y="757.0" xml:space="preserve">0.400 ≤</text><text class="ser" transform="translate(598.2 757.0) scale(1.25 1)" font-size="13.9">θ</text><text x="606.3" y="758.2" font-style="italic" font-size="10.2">v</text><text x="615.0" y="757.0" xml:space="preserve">≤ 0.500</text><text x="403.4" y="779.1" font-size="15.6">√</text><line x1="411.2" y1="767.0" x2="416.0" y2="767.0" stroke="#111" stroke-width="0.9"/><text x="410.8" y="778.9" font-style="italic">t</text><text x="418.4" y="778.9" xml:space="preserve">= 1</text><text x="551.9" y="778.9" xml:space="preserve">0.500 ≤</text><text class="ser" transform="translate(599.9 778.9) scale(1.25 1)" font-size="13.9">θ</text><text x="608.0" y="780.1" font-style="italic" font-size="10.2">v</text><text x="616.7" y="778.9" xml:space="preserve">≤ 0.884</text><text x="403.1" y="794.7" font-style="italic">r</text><text x="407.8" y="789.9" font-size="8.8">2</text><text x="418.4" y="794.7" xml:space="preserve">= 0.888</text></g>
<rect x="104.6" y="479.9" width="225.8" height="111.4" fill="#fff" stroke="#111" stroke-width="1.2"/>
<circle cx="147.0" cy="493.7" r="4.9" fill="#c38114"/>
<line x1="115.8" y1="514.9" x2="177.0" y2="514.9" stroke="#c00d0d" stroke-width="2.8"/>
<circle cx="146.4" cy="536.1" r="4.9" fill="#7c3f12"/>
<line x1="115.8" y1="558.2" x2="177.6" y2="558.2" stroke="#5e0b0b" stroke-width="2.7"/>
<line x1="115.2" y1="579.7" x2="175.8" y2="579.7" stroke="#21b5f2" stroke-width="1.7" stroke-dasharray="9.3 4.5 13 4.8 12.8 4.8 12 4"/>
<g font-size="13.6" fill="#111">
<text x="192.1" y="498.5">5-10 cm measured</text>
<text x="192.1" y="519.8">5-10 cm fitted</text>
<text x="192.1" y="541.0">10-15 cm measured</text>
<text x="192.1" y="562.2">10-15 cm fitted</text>
<text x="192.1" y="583.5">water repellency class</text>
</g>
<g font-size="20.6" fill="#111">
<text x="154" y="925.8">Volumetric soil moisture content,</text>
<text class="ser" transform="translate(457.3 925.8) scale(1.30 1)" font-size="20">θ</text><text x="469.4" y="926.9" font-style="italic" font-size="17">v</text>
<text x="481.4" y="925.8">[cm</text>
<text x="513.8" y="922.5" font-size="15.6">3</text>
<text x="530.2" y="925.8">cm</text>
<text x="559.0" y="922.5" font-size="15.6">-3</text>
<text x="571.4" y="925.8">]</text>
</g>
</g>
</svg></body></html>
